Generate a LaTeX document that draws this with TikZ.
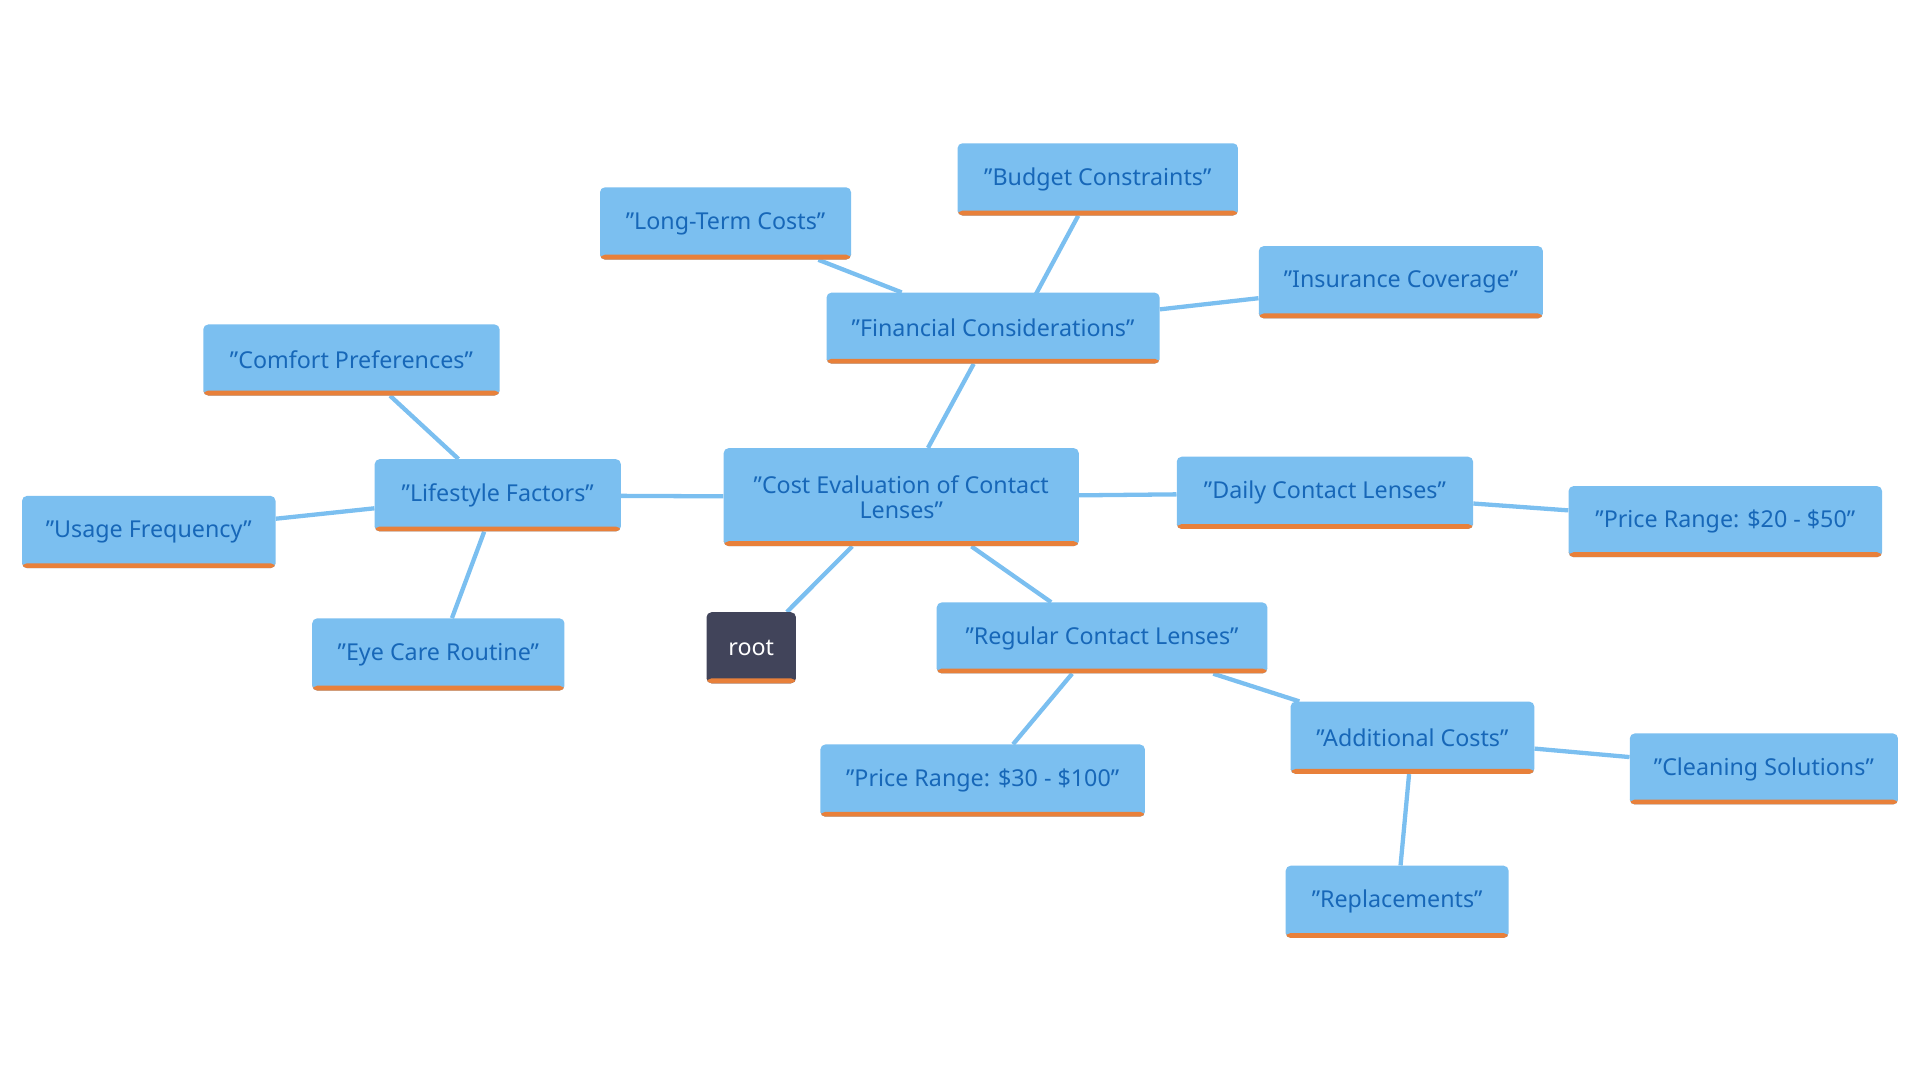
\documentclass[tikz,border=0pt]{standalone}
\usepackage{fontspec}
\setmainfont{Noto Sans}
\usetikzlibrary{backgrounds}
\definecolor{boxblue}{HTML}{7BBFF0}
\definecolor{textblue}{HTML}{1767B8}
\definecolor{barorange}{HTML}{E8803A}
\definecolor{rootgray}{HTML}{41445A}
\tikzset{
  box/.style={rectangle, rounded corners=4pt, fill=boxblue, text=textblue,
    font=\fontsize{19}{20}\selectfont, inner sep=0pt, align=center,
    path picture={\fill[barorange] (path picture bounding box.south west)
      rectangle ([yshift=4pt]path picture bounding box.south east);}},
  link/.style={draw=boxblue, line width=3.5pt}
}
\begin{document}
\begin{tikzpicture}[x=1pt,y=-1pt]
\useasboundingbox (0,0) rectangle (1568,882);
% centre and branches
\node[box, minimum width=290pt, minimum height=80pt] (cost) at (736,406) {"Cost Evaluation of Contact\\Lenses"};
\node[box, fill=rootgray, text=white, minimum width=73pt, minimum height=58pt] (root) at (613.5,529) {root};
\node[box, minimum width=272pt, minimum height=58pt] (fin) at (811,268) {"Financial Considerations"};
\node[box, minimum width=205pt, minimum height=59pt] (longterm) at (592.5,182.5) {"Long-Term Costs"};
\node[box, minimum width=229pt, minimum height=59pt] (budget) at (896.5,146.5) {"Budget Constraints"};
\node[box, minimum width=232pt, minimum height=59pt] (insur) at (1144,230.5) {"Insurance Coverage"};
\node[box, minimum width=201pt, minimum height=59pt] (life) at (406.5,404.5) {"Lifestyle Factors"};
\node[box, minimum width=242pt, minimum height=58pt] (comfort) at (287,294) {"Comfort Preferences"};
\node[box, minimum width=207pt, minimum height=59pt] (usage) at (121.5,434.5) {"Usage Frequency"};
\node[box, minimum width=206pt, minimum height=59pt] (eyecare) at (358,534.5) {"Eye Care Routine"};
\node[box, minimum width=242pt, minimum height=59pt] (daily) at (1082,402.5) {"Daily Contact Lenses"};
\node[box, minimum width=256pt, minimum height=58pt] (pricedaily) at (1409,426) {"Price Range: \$20 - \$50"};
\node[box, minimum width=270pt, minimum height=58pt] (regular) at (900,521) {"Regular Contact Lenses"};
\node[box, minimum width=265pt, minimum height=59pt] (priceregular) at (802.5,637.5) {"Price Range: \$30 - \$100"};
\node[box, minimum width=199pt, minimum height=59pt] (extra) at (1153.5,602.5) {"Additional Costs"};
\node[box, minimum width=219pt, minimum height=58pt] (cleaning) at (1440.5,628) {"Cleaning Solutions"};
\node[box, minimum width=182pt, minimum height=59pt] (replace) at (1141,736.5) {"Replacements"};
% connectors
\begin{pgfonlayer}{background}
\draw[link] (cost) -- (root);
\draw[link] (cost) -- (fin);
\draw[link] (fin) -- (longterm);
\draw[link] ([xshift=20pt]fin.center) -- (budget);
\draw[link] (fin) -- (insur);
\draw[link] (cost) -- (life);
\draw[link] (life) -- (comfort);
\draw[link] (life) -- (usage);
\draw[link] (life) -- (eyecare);
\draw[link] (cost) -- (daily);
\draw[link] (daily) -- (pricedaily);
\draw[link] (cost) -- (regular);
\draw[link] (regular) -- (priceregular);
\draw[link] (regular) -- (extra);
\draw[link] (extra) -- (cleaning);
\draw[link] (extra) -- (replace);
\end{pgfonlayer}
\end{tikzpicture}
\end{document}
